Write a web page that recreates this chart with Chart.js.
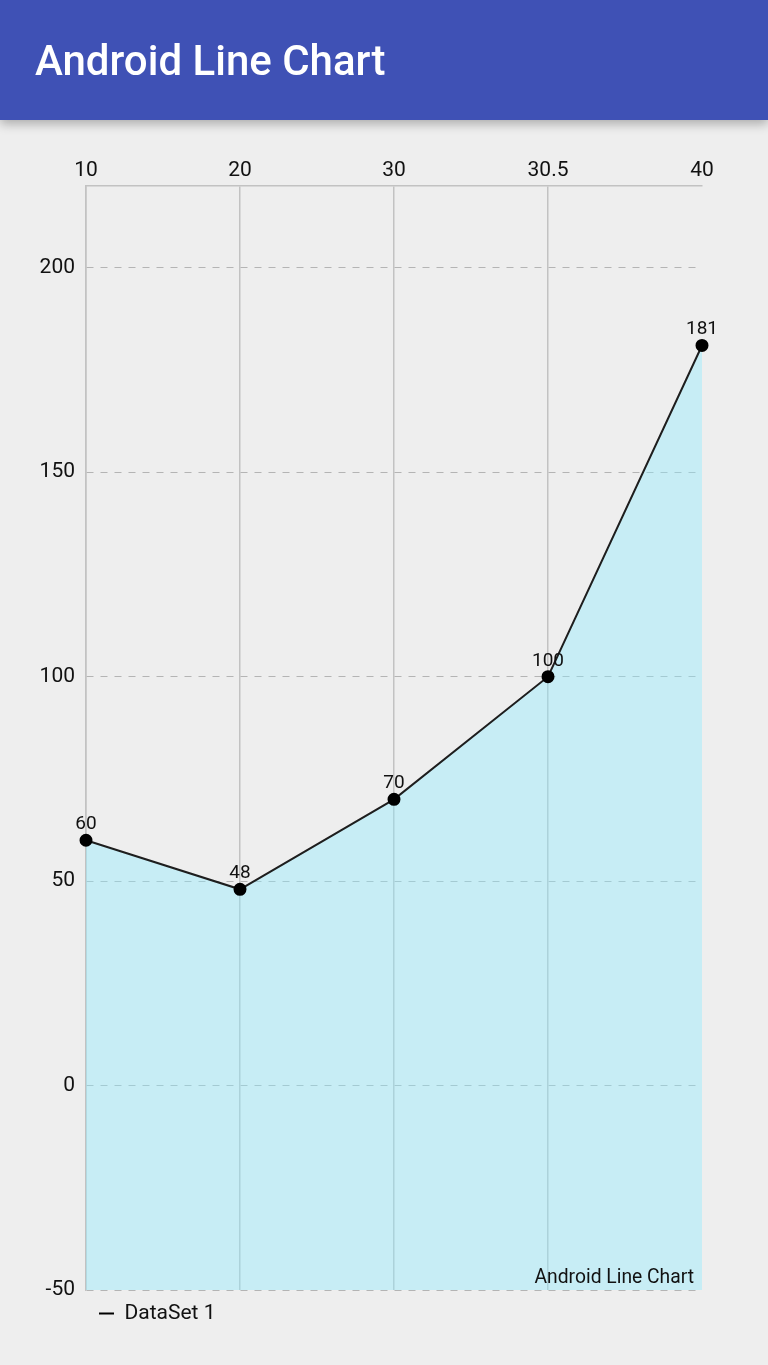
<!DOCTYPE html>
<html>
<head>
<meta charset="utf-8">
<title>Android Line Chart</title>
<script src="https://cdn.jsdelivr.net/npm/chart.js@4.4.0/dist/chart.umd.min.js"></script>
<style>
  html, body { margin: 0; padding: 0; background: #eeeeee; }
  body { width: 768px; height: 1365px; position: relative; overflow: hidden; font-family: Roboto, "Noto Sans", sans-serif; }
  .appbar {
    position: absolute; left: 0; top: 0; width: 768px; height: 120px;
    background: #3f51b5; box-shadow: 0 4px 10px rgba(0,0,0,0.28); z-index: 2;
  }
  .appbar h1 {
    margin: 0; position: absolute; left: 35px; top: 35px;
    font: 500 42px/52px Roboto, sans-serif; color: #fff; letter-spacing: 0;
  }
  .chart-box { position: absolute; left: 0; top: 120px; width: 768px; height: 1245px; }
</style>
</head>
<body>
<div class="appbar"><h1>Android Line Chart</h1></div>
<div class="chart-box"><canvas id="chart-line"></canvas></div>
<script>
  // data
  const xLabels = ['10', '20', '30', '30.5', '40'];
  const values = [60, 48, 70, 100, 181];
  const seriesName = 'DataSet 1';
  const description = 'Android Line Chart';
  const yMin = -50, yMax = 220, yStep = 50;

  const textColor = '#111';
  const gridColor = '#c2c2c2';
  const dashColor = '#b4b4b4';

  // value labels above each point + description text in the corner
  const labelsPlugin = {
    id: 'pointLabels',
    afterDatasetsDraw(chart) {
      const { ctx, chartArea } = chart;
      const meta = chart.getDatasetMeta(0);
      ctx.save();
      ctx.fillStyle = textColor;
      ctx.font = '19px Roboto';
      ctx.textAlign = 'center';
      ctx.textBaseline = 'alphabetic';
      meta.data.forEach((pt, i) => {
        ctx.fillText(String(values[i]), pt.x, pt.y - 11);
      });
      ctx.font = '19.3px Roboto';
      ctx.textAlign = 'right';
      ctx.fillText(description, chartArea.right - 8, chartArea.bottom - 7);
      ctx.restore();
    }
  };

  new Chart(document.getElementById('chart-line'), {
    type: 'line',
    data: {
      labels: xLabels,
      datasets: [{
        label: seriesName,
        data: values,
        borderColor: '#1e1e1e',
        borderWidth: 2,
        backgroundColor: 'rgba(140,234,255,0.4)',
        fill: 'start',
        tension: 0,
        pointRadius: 5.5,
        pointHoverRadius: 5.5,
        pointBackgroundColor: '#000',
        pointBorderColor: '#000',
        pointBorderWidth: 2
      }]
    },
    options: {
      responsive: true,
      maintainAspectRatio: false,
      animation: false,
      events: [],
      layout: { padding: { left: 0, right: 66, top: 0, bottom: 31 } },
      plugins: {
        legend: {
          position: 'bottom',
          align: 'start',
          fullSize: false,
          labels: {
            color: textColor,
            font: { family: 'Roboto', size: 21 },
            usePointStyle: true,
            pointStyle: 'line',
            pointStyleWidth: 15,
            boxHeight: 10,
            padding: 13
          }
        },
        tooltip: { enabled: false }
      },
      scales: {
        x: {
          position: 'top',
          offset: false,
          afterFit(scale) { scale.height = 66; },
          ticks: { color: textColor, font: { family: 'Roboto', size: 21 }, padding: 3, maxRotation: 0, autoSkip: false },
          grid: {
            drawTicks: false,
            lineWidth: 1.5,
            color: ctx => (ctx.index === xLabels.length - 1 ? 'rgba(0,0,0,0)' : gridColor)
          },
          border: { display: true, color: gridColor, width: 1.5 }
        },
        y: {
          min: yMin,
          max: yMax,
          afterFit(scale) { scale.width = 86; },
          ticks: { stepSize: yStep, includeBounds: false, color: textColor, font: { family: 'Roboto', size: 21 }, padding: 11 },
          grid: { drawTicks: false, lineWidth: 1, color: dashColor },
          border: { display: true, color: gridColor, width: 1.5, dash: [7, 7] }
        }
      }
    },
    plugins: [labelsPlugin]
  });
</script>
</body>
</html>
